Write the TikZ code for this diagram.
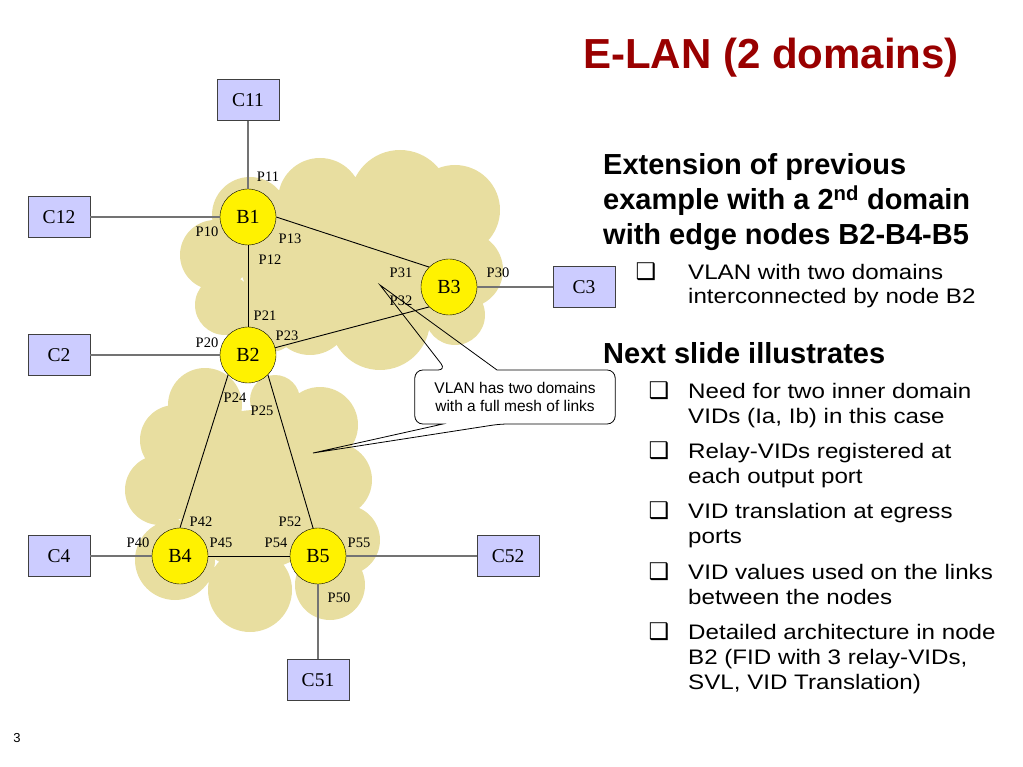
\documentclass[tikz,border=0pt]{standalone}
\usepackage{fontspec}
\setmainfont{Liberation Serif}
\newfontfamily\sansf{Liberation Sans}
\newfontfamily\widesans[FakeStretch=1.15]{Liberation Sans}
\newfontfamily\dingf{DejaVu Sans}
\definecolor{custblue}{RGB}{204,204,255}
\definecolor{cloudtan}{RGB}{232,222,160}
\definecolor{titlered}{RGB}{153,0,0}
\tikzset{
  cust/.style={draw=black!75, fill=custblue, minimum width=62pt, minimum height=41pt, inner sep=0pt, font=\fontsize{19.5}{22}\selectfont},
  brg/.style={circle, draw=black, fill=yellow, minimum size=56pt, inner sep=0pt, font=\fontsize{20}{22}\selectfont},
  port/.style={inner sep=0pt, font=\fontsize{14.5}{16}\selectfont},
  acc/.style={draw=black!55, line width=1.6pt},
  lnk/.style={draw=black, line width=0.9pt},
  head/.style={anchor=base west, inner sep=0pt, font=\sansf\bfseries\fontsize{29}{35}\selectfont},
  item/.style={anchor=base west, inner sep=0pt, font=\widesans\fontsize{21}{25}\selectfont},
  tick/.style={anchor=base, inner sep=0pt, font=\dingf\fontsize{23}{25}\selectfont},
}

\begin{document}
\begin{tikzpicture}[x=1pt, y=-1pt]
    \useasboundingbox (0,0) rectangle (1023,767);
    % domain clouds
    \fill[cloudtan] (250,215) circle (38pt) (215,255) circle (35pt) (225,305) circle (30pt)
        (320,200) circle (42pt) (400,200) circle (50pt) (455,210) circle (45pt)
        (465,270) circle (38pt) (455,315) circle (30pt) (380,320) circle (50pt)
        (310,315) circle (40pt) (300,260) circle (60pt) (270,322) circle (30pt)
        (395,265) circle (55pt) (350,228) circle (40pt);
    \fill[cloudtan] (205,405) circle (37pt) (175,440) circle (35pt) (160,490) circle (35pt)
        (175,560) circle (40pt) (250,590) circle (42pt) (330,585) circle (35pt)
        (345,540) circle (35pt) (335,480) circle (37pt) (320,425) circle (38pt)
        (275,400) circle (25pt) (255,490) circle (80pt);

    \node[brg] (B1) at (248,217) {B1};
    \node[brg] (B2) at (248,355) {B2};
    \node[brg] (B3) at (449,287) {B3};
    \node[brg] (B4) at (180,556) {B4};
    \node[brg] (B5) at (318,556) {B5};

    \node[cust] (C11) at (248,100) {C11};
    \node[cust] (C12) at (59,217) {C12};
    \node[cust] (C2) at (59,355) {C2};
    \node[cust] (C3) at (584,287) {C3};
    \node[cust] (C4) at (59,556) {C4};
    \node[cust] (C52) at (508,556) {C52};
    \node[cust] (C51) at (318,680) {C51};

    \draw[acc] (C11) -- (B1);
    \draw[acc] (C12) -- (B1);
    \draw[acc] (C2) -- (B2);
    \draw[acc] (C3) -- (B3);
    \draw[acc] (C4) -- (B4);
    \draw[acc] (C52) -- (B5);
    \draw[acc] (C51) -- (B5);

    \draw[lnk] (B1) -- (B2);
    \draw[lnk] (B1.east) -- (B3.135);
    \draw[lnk] (B2.15) -- (B3.225);
    \draw[lnk] (B2.225) -- (B4.north);
    \draw[lnk] (B2.315) -- (B5.100);
    \draw[lnk] (B4) -- (B5);

    % ports
    \node[port] (p11) at (268,177) {P11};
    \node[port] (p10) at (207,232) {P10};
    \node[port] (p13) at (290,239) {P13};
    \node[port] (p12) at (270,260) {P12};
    \node[port] (p31) at (401,273) {P31};
    \node[port] (p30) at (498,273) {P30};
    \node[port] (p32) at (401,301) {P32};
    \node[port] (p21) at (265,316) {P21};
    \node[port] (p20) at (207,343) {P20};
    \node[port] (p23) at (287,336) {P23};
    \node[port] (p24) at (235,398) {P24};
    \node[port] (p25) at (262,411) {P25};
    \node[port] (p42) at (201,522) {P42};
    \node[port] (p52) at (290,522) {P52};
    \node[port] (p40) at (138,543) {P40};
    \node[port] (p45) at (221,543) {P45};
    \node[port] (p54) at (276,543) {P54};
    \node[port] (p55) at (359,543) {P55};
    \node[port] (p50) at (339,598) {P50};

    % callout
    \node[fill=white, rounded corners=8pt, minimum width=200pt, minimum height=54pt, inner sep=0pt,
          align=center, font=\sansf\fontsize{15.5}{18}\selectfont] (note) at (515,397)
          {VLAN has two domains\\with a full mesh of links};
    \coordinate (tipA) at (380,285);
    \coordinate (tipB) at (313,453);
    \draw[line width=0.8pt, rounded corners=8pt] (note.west) |- (446,370) [sharp corners] -- (tipA) -- (497,370)
        [rounded corners=8pt] -| (note.east) |- (500,424) [sharp corners] -- (tipB) -- (443,424)
        [rounded corners=8pt] -| (note.west);

    % slide text
    \node[anchor=base west, inner sep=0pt, text=titlered, font=\sansf\bfseries\fontsize{42}{48}\selectfont] (title) at (583,69) {E-LAN (2 domains)};
    \node[head] (h1) at (603,175) {Extension of previous};
    \node[head] (h2) at (603,210) {example with a 2\textsuperscript{nd} domain};
    \node[head] (h3) at (603,245) {with edge nodes B2-B4-B5};
    \node[tick] (k0) at (646,280) {❑};
    \node[item] (s0a) at (688,280) {VLAN with two domains};
    \node[item] (s0b) at (688,304) {interconnected by node B2};

    \node[head] (h4) at (603,363) {Next slide illustrates};
    \node[tick] (k1) at (659,398) {❑};
    \node[item] (s1a) at (688,398) {Need for two inner domain};
    \node[item] (s1b) at (688,423) {VIDs (Ia, Ib) in this case};
    \node[tick] (k2) at (659,458) {❑};
    \node[item] (s2a) at (688,458) {Relay-VIDs registered at};
    \node[item] (s2b) at (688,483) {each output port};
    \node[tick] (k3) at (659,518) {❑};
    \node[item] (s3a) at (688,518) {VID translation at egress};
    \node[item] (s3b) at (688,543) {ports};
    \node[tick] (k4) at (659,579) {❑};
    \node[item] (s4a) at (688,579) {VID values used on the links};
    \node[item] (s4b) at (688,604) {between the nodes};
    \node[tick] (k5) at (659,639) {❑};
    \node[item] (s5a) at (688,639) {Detailed architecture in node};
    \node[item] (s5b) at (688,664) {B2 (FID with 3 relay-VIDs,};
    \node[item] (s5c) at (688,689) {SVL, VID Translation)};

    \node[inner sep=0pt, font=\sansf\fontsize{13}{15}\selectfont] (num) at (17,738) {3};
\end{tikzpicture}
\end{document}
